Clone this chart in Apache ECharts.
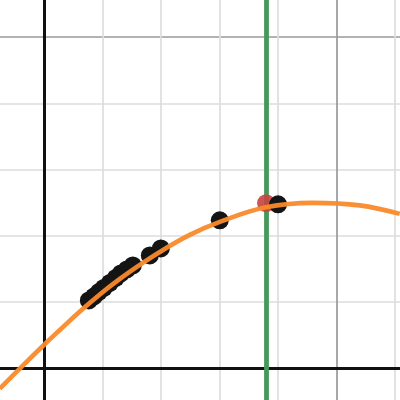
<!DOCTYPE html>
<html>
<head>
<meta charset="utf-8">
<script src="https://cdn.jsdelivr.net/npm/echarts@6/dist/echarts.min.js"></script>
<style>
html, body { margin: 0; padding: 0; background: #fff; overflow: hidden; width: 400px; height: 400px; }
/* chart area is larger than the window: the axis range -1..7 / -1..6 spills past the edges */
#main { position: absolute; left: -13.9px; top: -29.1px; width: 467.2px; height: 462.5px; }
</style>
</head>
<body>
<div id="main"></div>
<script>
// data points (black)
var pointX = [0.762, 0.848, 0.933, 1.019, 1.122, 1.224, 1.310, 1.413, 1.515, 1.807, 1.995, 3.005, 4.003];
var pointY = [1.019, 1.079, 1.147, 1.208, 1.284, 1.360, 1.428, 1.488, 1.549, 1.700, 1.806, 2.230, 2.472];
// fitted curve (orange)
var curveX = [-0.762, -0.408, 0, 0.265, 0.608, 0.950, 1.293, 1.635, 1.978, 2.491, 3.005, 3.793, 4.598, 5.402, 6.087];
var curveY = [-0.313, 0, 0.353, 0.572, 0.852, 1.110, 1.344, 1.556, 1.753, 2.010, 2.207, 2.427, 2.495, 2.457, 2.328];
// vertical line and the red point on it
var lineX = 3.798;
var redX = [3.798];
var redY = [2.49];

var minor = '#dddddd', major = '#999999';

var myChart = echarts.init(document.getElementById('main'));

function zip(xs, ys) {
    var out = [];
    for (var i = 0; i < xs.length; i++) out.push([xs[i], ys[i]]);
    return out;
}

var option = {
    animation: false,
    backgroundColor: '#fff',
    grid: { left: 0, right: 0, top: 0, bottom: 0, containLabel: false },
    xAxis: {
        type: 'value',
        min: -1,
        max: 7,
        interval: 1,
        axisLine: { onZero: true, lineStyle: { color: '#111', width: 3 } },
        axisTick: { show: false },
        axisLabel: { show: false },
        splitLine: {
            show: true,
            lineStyle: {
                width: 1.7,
                // -1, 0, 1, 2, 3, 4, 5, 6, 7
                color: [minor, minor, minor, minor, minor, minor, major, minor, minor]
            }
        }
    },
    yAxis: {
        type: 'value',
        min: -1,
        max: 6,
        interval: 1,
        axisLine: { onZero: true, lineStyle: { color: '#111', width: 3 } },
        axisTick: { show: false },
        axisLabel: { show: false },
        splitLine: {
            show: true,
            lineStyle: {
                width: 1.7,
                // -1, 0, 1, 2, 3, 4, 5, 6
                color: [minor, minor, minor, minor, minor, minor, major, minor]
            }
        }
    },
    series: [
        {
            // green vertical line x = lineX
            type: 'scatter',
            data: [],
            z: 2,
            markLine: {
                z: 2,
                silent: true,
                symbol: 'none',
                label: { show: false },
                lineStyle: { color: '#46995a', width: 4.8, type: 'solid' },
                data: [{ xAxis: lineX }]
            }
        },
        {
            type: 'scatter',
            data: zip(redX, redY),
            symbolSize: 18,
            z: 3,
            itemStyle: { color: '#c74440', opacity: 0.9 }
        },
        {
            type: 'scatter',
            data: zip(pointX, pointY),
            symbolSize: 18,
            z: 4,
            itemStyle: { color: '#141414', opacity: 1 }
        },
        {
            type: 'line',
            data: zip(curveX, curveY),
            smooth: 0.4,
            showSymbol: false,
            z: 6,
            lineStyle: { color: '#fa8a2a', width: 4.6, opacity: 0.95 }
        }
    ]
};
myChart.setOption(option);
</script>
</body>
</html>
